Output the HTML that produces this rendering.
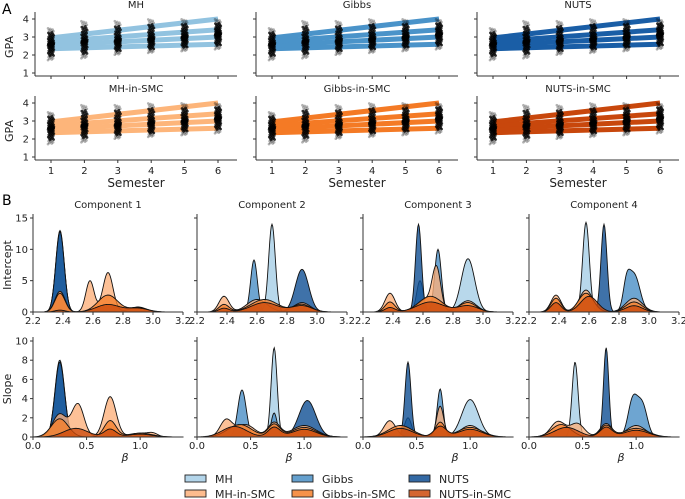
<!DOCTYPE html>
<html><head><meta charset="utf-8"><style>
html,body{margin:0;padding:0;background:#fff;}
svg{display:block;font-family:"DejaVu Sans","Liberation Sans",sans-serif;}
</style></head><body>
<svg id="fig" width="685" height="499" viewBox="0 0 685 499" xmlns="http://www.w3.org/2000/svg">
<text x="2" y="14" font-size="14">A</text>
<text x="2" y="205" font-size="14">B</text>
</svg>
<script>
// ---------- Panel A data ----------
const semesters = [1,2,3,4,5,6];
const gpaTicks = [1,2,3,4];
const lineStart = [2.35,2.55,2.75,2.95];
const lineEnd = [2.6,3.0,3.4,4.0];
const semMean = [2.6,2.75,2.8,2.9,3.0,3.15];
const semLow = [1.7,1.8,2.0,2.1,2.2,2.3];
const semHigh = [3.5,3.9,3.9,4.0,4.0,4.0];
const methodsA = ["MH","Gibbs","NUTS","MH-in-SMC","Gibbs-in-SMC","NUTS-in-SMC"];
const lineColors = ["#92c3e0","#4a93c9","#1a5ea6","#fdb57a","#f47a25","#c8470c"];

// ---------- Panel B data ----------
const components = ["Component 1","Component 2","Component 3","Component 4"];
const methodsB = ["MH","Gibbs","NUTS","MH-in-SMC","Gibbs-in-SMC","NUTS-in-SMC"];
const fillColors = ["#a6cee6","#4a8fc6","#0f4f94","#fdb07a","#f57f2a","#cc4a0c"];
const interceptTicks = [0,5,10,15];
const slopeTicks = [0,2,4,6,8,10];
const interceptXTicks = [2.2,2.4,2.6,2.8,3.0,3.2];
const slopeXTicks = [0.0,0.5,1.0];
// peaks: [location, height, width]
const interceptPeaks = [
 [ [[2.38,12.5,0.025]], [[2.38,13,0.025]], [[2.38,12.8,0.025]],
   [[2.38,3.3,0.03],[2.58,5,0.025],[2.7,6.3,0.03],[2.9,0.8,0.05]],
   [[2.38,3,0.03],[2.7,2.7,0.06],[2.9,0.7,0.05]],
   [[2.38,0.3,0.03],[2.7,1.2,0.07],[2.9,0.6,0.06]] ],
 [ [[2.7,14,0.02],[2.58,1,0.03]], [[2.58,8.3,0.02],[2.9,1.5,0.04]], [[2.9,6.8,0.04],[2.58,1,0.03]],
   [[2.38,2.5,0.03],[2.6,2,0.06],[2.9,1.5,0.05]],
   [[2.38,1.2,0.03],[2.65,2,0.08],[2.9,1.2,0.05]],
   [[2.38,0.6,0.03],[2.65,1.5,0.08],[2.9,1,0.06]] ],
 [ [[2.9,8.5,0.04],[2.7,2,0.03]], [[2.7,10,0.02],[2.58,5,0.02]], [[2.57,14,0.018]],
   [[2.38,3,0.03],[2.69,6.5,0.025],[2.9,1.8,0.05],[2.62,2,0.05]],
   [[2.38,1.6,0.03],[2.65,2.5,0.07],[2.9,1.5,0.05]],
   [[2.38,0.7,0.03],[2.65,1.6,0.08],[2.9,1,0.06]] ],
 [ [[2.58,14.3,0.02]], [[2.85,3.5,0.02],[2.9,6,0.035]], [[2.7,14,0.018]],
   [[2.38,2.7,0.03],[2.58,3.5,0.04],[2.9,2.2,0.05]],
   [[2.38,2.2,0.03],[2.58,3,0.045],[2.9,1.6,0.05]],
   [[2.38,1.5,0.03],[2.6,2.5,0.05],[2.9,1,0.05]] ]
];
const slopePeaks = [
 [ [[0.25,7.5,0.04]], [[0.25,8,0.04]], [[0.25,7.8,0.04]],
   [[0.25,2.4,0.06],[0.42,3.4,0.05],[0.72,4.2,0.05],[1.0,0.4,0.08],[1.12,0.3,0.04]],
   [[0.25,1.9,0.07],[0.72,1.7,0.05],[1.0,0.4,0.1]],
   [[0.4,0.9,0.1],[0.72,0.8,0.05],[1.0,0.3,0.1]] ],
 [ [[0.72,9.3,0.025],[0.42,0.5,0.05]], [[0.42,4.9,0.035],[0.72,2.5,0.025]], [[1.03,3.8,0.07]],
   [[0.27,1.7,0.05],[0.45,1.3,0.08],[0.72,1.5,0.05],[1.0,1.2,0.1]],
   [[0.4,1.3,0.1],[0.72,1.3,0.05],[1.0,1.0,0.1]],
   [[0.35,1.1,0.1],[0.72,1.0,0.05],[1.0,0.8,0.1]] ],
 [ [[1.0,3.9,0.07],[0.72,1,0.03]], [[0.72,5,0.025],[0.42,2,0.03]], [[0.42,7.8,0.025]],
   [[0.25,1.7,0.05],[0.72,3.2,0.03],[1.0,1.2,0.08]],
   [[0.35,1.2,0.1],[0.72,1.5,0.04],[1.0,1.0,0.1]],
   [[0.35,0.9,0.1],[0.72,1.1,0.05],[1.0,0.8,0.1]] ],
 [ [[0.43,7.8,0.025]], [[0.97,3.9,0.04],[1.06,3.2,0.04]], [[0.72,9.3,0.022]],
   [[0.27,1.6,0.06],[0.45,1.4,0.06],[0.72,1.4,0.05],[1.0,1.2,0.08]],
   [[0.3,1.3,0.08],[0.72,1.2,0.05],[1.0,0.9,0.1]],
   [[0.35,1,0.1],[0.72,1,0.05],[1.0,0.7,0.1]] ]
];

const svg = document.getElementById('fig');
const NS = 'http://www.w3.org/2000/svg';
function mk(tag, attrs, parent){ const e=document.createElementNS(NS,tag); for(const k in attrs) e.setAttribute(k,attrs[k]); (parent||svg).appendChild(e); return e; }
function txt(x,y,s,size,anchor,parent){ const t=mk('text',{x:x,y:y,'font-size':size,'text-anchor':anchor||'middle',fill:'#222'},parent); t.textContent=s; return t; }

// ---------- Panel A ----------
const colX = [35,256,477];
const rowY = [12,96];
methodsA.forEach((m,i)=>{
  const c=i%3, r=Math.floor(i/3);
  const g=mk('g',{});
  
  
  const x0=colX[c], top=rowY[r], bottom=top+64;
  const sx=s=>x0+16+(s-1)*33.4;
  const sy=v=>top+61-(v-1)*18;
  mk('line',{x1:x0,y1:top,x2:x0,y2:bottom,stroke:'#333','stroke-width':1},g);
  mk('line',{x1:x0,y1:bottom,x2:x0+202,y2:bottom,stroke:'#333','stroke-width':1},g);
  const tt=txt(x0+101,top-4,m,10,'middle',g);
  
  
  gpaTicks.forEach(v=>{
    mk('line',{x1:x0-3,y1:sy(v),x2:x0,y2:sy(v),stroke:'#333'},g);
    if(c===0) txt(x0-6,sy(v)+3.5,String(v),10,'end',g);
  });
  semesters.forEach(s=>{
    mk('line',{x1:sx(s),y1:bottom,x2:sx(s),y2:bottom+3,stroke:'#333'},g);
    if(r===1) txt(sx(s),bottom+14,String(s),10,'middle',g);
  });
  lineStart.forEach((a,k)=>{
    const l=mk('line',{x1:sx(1),y1:sy(a),x2:sx(6),y2:sy(lineEnd[k]),stroke:lineColors[i],'stroke-width':5},g);
    
    
  });
  semesters.forEach((s,j)=>{
    const n=90;
    for(let q=0;q<n;q++){
      const p=(q+0.5)/n;
      const z=(p-0.5)*2; const t=Math.sign(z)*Math.pow(Math.abs(z),1.7);
      const v= t<0 ? semMean[j]+t*(semMean[j]-semLow[j]) : semMean[j]+t*(semHigh[j]-semMean[j]);
      const jx=(((q*0.618034)%1)-0.5)*6;
      mk('circle',{cx:sx(s)+jx,cy:sy(v),r:1.3,fill:'#000','fill-opacity':Math.abs(z)>0.85?0.3:0.8},g);
    }
  });
  if(c===0){ const yl=txt(0,0,'GPA',11,'middle',g); yl.setAttribute('transform',`translate(${x0-22},${top+35}) rotate(-90)`); }
  if(r===1){ txt(x0+101,bottom+27,'Semester',12,'middle',g); }
});

// ---------- Panel B ----------
const bx = [33,197,363,529];
function dens(peaks,x){ let s=0; peaks.forEach(p=>{ const w=p[2]*1.12; s+=p[1]*Math.exp(-0.5*Math.pow((x-p[0])/w,2)); }); return s; }
function drawRow(peaksAll, dom, ymax, base, ht, yticks, xticks, rowName, ylab, fmt){
  components.forEach((comp,ci)=>{
    const g=mk('g',{});
    
    
    const x0=bx[ci], w=150;
    const X=v=>x0+(v-dom[0])/(dom[1]-dom[0])*w;
    const Y=v=>base-v/ymax*ht;
    methodsB.forEach((m,mi)=>{
      let d='M'+X(dom[0])+','+Y(0);
      for(let k=0;k<=200;k++){ const v=dom[0]+(dom[1]-dom[0])*k/200; d+=' L'+X(v).toFixed(2)+','+Y(dens(peaksAll[ci][mi],v)).toFixed(2); }
      d+=' L'+X(dom[1])+','+Y(0)+' Z';
      const p=mk('path',{d:d,fill:fillColors[mi],'fill-opacity':mi<3?0.8:0.78,stroke:'#111','stroke-width':0.9},g);
      
      
    });
    mk('line',{x1:x0,y1:base-ht-4,x2:x0,y2:base,stroke:'#333'},g);
    mk('line',{x1:x0,y1:base,x2:x0+w,y2:base,stroke:'#333'},g);
    yticks.forEach(v=>{ mk('line',{x1:x0-3,y1:Y(v),x2:x0,y2:Y(v),stroke:'#333'},g); if(ci===0) txt(x0-5,Y(v)+3.5,String(v),10,'end',g); });
    xticks.forEach(v=>{ mk('line',{x1:X(v),y1:base,x2:X(v),y2:base+3,stroke:'#333'},g); txt(X(v),base+12,fmt(v),10,'middle',g); });
    if(rowName==='intercept'){ const t=txt(x0+75,base-ht-10,comp,10,'middle',g);   }
    else { const t=txt(x0+92,base+24,'β',11,'middle',g); t.setAttribute('font-style','italic'); }
    if(ci===0){ const yl=txt(0,0,ylab,11,'middle',g); yl.setAttribute('transform',`translate(${x0-22},${base-ht/2}) rotate(-90)`); }
  });
}
drawRow(interceptPeaks,[2.2,3.2],15,312,94,interceptTicks,interceptXTicks,'intercept','Intercept',v=>v.toFixed(1));
drawRow(slopePeaks,[0,1.4],10,437,96,slopeTicks,slopeXTicks,'slope','Slope',v=>v.toFixed(1));

// ---------- Legend ----------
const legX=[185,292,409], legY=[479,494];
const lg=mk('g',{});


methodsB.forEach((m,i)=>{
  const c=i%3, r=Math.floor(i/3);
  const e=mk('g',{},lg);
  
  
  mk('rect',{x:legX[c],y:legY[r]-4,width:21,height:7,fill:fillColors[i],'fill-opacity':0.85,stroke:'#222','stroke-width':0.9},e);
  txt(legX[c]+30,legY[r]+4,m,11,'start',e);
});
</script>
</body></html>
